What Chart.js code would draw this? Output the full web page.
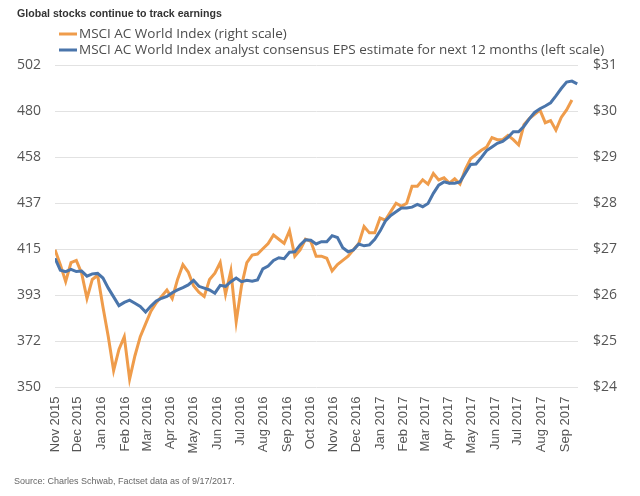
<!DOCTYPE html>
<html>
<head>
<meta charset="utf-8">
<script src="https://cdn.jsdelivr.net/npm/chart.js@4.4.1/dist/chart.umd.min.js"></script>
<style>
  html, body { margin: 0; padding: 0; background: #ffffff; }
  #wrap { width: 640px; height: 496px; position: relative; }
</style>
</head>
<body>
<div id="wrap"><canvas id="c" width="640" height="496"></canvas></div>
<script>
// ---- text ----
const chartTitle = "Global stocks continue to track earnings";
const sourceNote = "Source: Charles Schwab, Factset data as of 9/17/2017.";
const seriesLabels = [
  "MSCI AC World Index (right scale)",
  "MSCI AC World Index analyst consensus EPS estimate for next 12 months (left scale)"
];

// ---- axis labels ----
const monthLabels = ["Nov 2015","Dec 2015","Jan 2016","Feb 2016","Mar 2016","Apr 2016","May 2016",
  "Jun 2016","Jul 2016","Aug 2016","Sep 2016","Oct 2016","Nov 2016","Dec 2016","Jan 2017",
  "Feb 2017","Mar 2017","Apr 2017","May 2017","Jun 2017","Jul 2017","Aug 2017","Sep 2017"];
const leftTickLabels = ["350","372","393","415","437","458","480","502"];
const leftMin = 350, leftMax = 502;
const rightTickLabels = ["$24","$25","$26","$27","$28","$29","$30","$31"];
const rightMin = 24, rightMax = 31;

// ---- series: weekly readings starting 1 Nov 2015 ----
const startDate = new Date(2015, 10, 1);
const endDate = new Date(2017, 8, 18);
const msciIndex = [
  415,408,400,409,410,404,392,401,403,388,
  374,358,368,374,354,365,374,380,386,390,
  393,396,392,401,408,404.5,398,395,393,401,
  404,409,394,405,381,398,409,412.5,413,415.5,
  418,422,420,418,424,412,415,420,419,412,
  412,411,405,408,410,412,415,418,426,423,
  423,430,429,433,437,435.5,437,445,445,448,
  446,451,448,449,446.5,448.5,446,453,458,460,
  462,463.5,468,467,467,469,467,464.5,474,477,
  479,481,475,476,471.5,477.5,481,485.7
];
const epsEstimate = [
  26.81,26.55,26.52,26.57,26.52,26.53,26.42,26.47,26.48,26.38,
  26.16,25.97,25.78,25.85,25.90,25.83,25.76,25.64,25.77,25.88,
  25.94,25.98,26.06,26.12,26.17,26.23,26.33,26.20,26.16,26.12,
  26.05,26.22,26.20,26.30,26.38,26.30,26.33,26.31,26.34,26.58,
  26.64,26.76,26.82,26.80,26.94,26.95,27.10,27.21,27.20,27.12,
  27.17,27.17,27.30,27.26,27.04,26.95,26.99,27.12,27.08,27.10,
  27.22,27.40,27.62,27.74,27.82,27.90,27.90,27.92,27.98,27.93,
  28.00,28.22,28.40,28.47,28.44,28.44,28.47,28.66,28.85,28.86,
  29.00,29.15,29.23,29.31,29.35,29.44,29.56,29.56,29.68,29.84,
  29.98,30.06,30.12,30.19,30.34,30.50,30.64,30.66,30.60
];

const DAY = 86400000;
const dayOf = d => Math.round((d - startDate) / DAY);
const monthTickDays = monthLabels.map((_, m) => dayOf(new Date(2015, 10 + m, 1)));
const toPoints = arr => arr.map((v, i) => ({ x: i * 7, y: v }));

const orange = '#EF9C4B';
const blue = '#4A75AB';

const overlay = {
  id: 'overlay',
  beforeDraw(chart) {
    const ctx = chart.ctx;
    ctx.save();
    ctx.fillStyle = '#ffffff';
    ctx.fillRect(0, 0, chart.width, chart.height);
    ctx.restore();
  },
  afterDraw(chart) {
    const ctx = chart.ctx;
    ctx.save();
    ctx.textBaseline = 'middle';
    ctx.textAlign = 'left';
    ctx.fillStyle = '#333333';
    ctx.font = 'bold 10.6px "Liberation Sans", Arial, sans-serif';
    ctx.fillText(chartTitle, 17, 14);

    const rows = [34, 50];
    chart.data.datasets.forEach((ds, i) => {
      const y = rows[i];
      ctx.strokeStyle = ds.borderColor;
      ctx.lineWidth = 3;
      ctx.beginPath();
      ctx.moveTo(59, y);
      ctx.lineTo(77, y);
      ctx.stroke();
      ctx.fillStyle = '#4d4d4d';
      ctx.font = '13.5px "Open Sans", sans-serif';
      ctx.fillText(ds.label, 79, y);
    });

    ctx.fillStyle = '#666666';
    ctx.font = '9px "Liberation Sans", Arial, sans-serif';
    ctx.fillText(sourceNote, 14, 482);
    ctx.restore();
  }
};

new Chart(document.getElementById('c'), {
  type: 'line',
  data: {
    datasets: [
      {
        label: seriesLabels[0],
        data: toPoints(msciIndex),
        yAxisID: 'y',
        borderColor: orange,
        borderWidth: 3,
        pointRadius: 0,
        tension: 0,
        order: 1
      },
      {
        label: seriesLabels[1],
        data: toPoints(epsEstimate),
        yAxisID: 'y1',
        borderColor: blue,
        borderWidth: 3,
        pointRadius: 0,
        tension: 0,
        order: 0
      }
    ]
  },
  options: {
    responsive: false,
    animation: false,
    events: [],
    layout: { padding: { top: 65.5, left: 0, right: 0, bottom: 0 } },
    plugins: { legend: { display: false }, tooltip: { enabled: false }, title: { display: false } },
    scales: {
      x: {
        type: 'linear',
        min: 0,
        max: dayOf(endDate),
        grid: { display: false, drawTicks: false },
        border: { display: false },
        afterBuildTicks: s => { s.ticks = monthTickDays.map(v => ({ value: v })); },
        afterFit: s => { s.height = 108.5; },
        ticks: {
          autoSkip: false,
          maxRotation: 90,
          minRotation: 90,
          padding: 9,
          color: '#555555',
          font: { family: '"Liberation Sans", Arial, sans-serif', size: 13 },
          callback: (v, i) => monthLabels[i]
        }
      },
      y: {
        position: 'left',
        min: leftMin,
        max: leftMax,
        grid: { color: '#e2e2e2', lineWidth: 1, drawTicks: false },
        border: { display: false },
        afterBuildTicks: s => {
          s.ticks = leftTickLabels.map((_, i) => ({ value: leftMin + i * (leftMax - leftMin) / (leftTickLabels.length - 1) }));
        },
        afterFit: s => { s.width = 55; },
        ticks: {
          padding: 14,
          color: '#555555',
          font: { family: '"Open Sans", sans-serif', size: 14 },
          callback: (v, i) => leftTickLabels[i]
        }
      },
      y1: {
        position: 'right',
        min: rightMin,
        max: rightMax,
        grid: { display: false, drawTicks: false },
        border: { display: false },
        afterBuildTicks: s => {
          s.ticks = rightTickLabels.map((_, i) => ({ value: rightMin + i }));
        },
        afterFit: s => { s.width = 62; },
        ticks: {
          padding: 15,
          color: '#555555',
          font: { family: '"Open Sans", sans-serif', size: 14 },
          callback: (v, i) => rightTickLabels[i]
        }
      }
    }
  },
  plugins: [overlay]
});
</script>
</body>
</html>
